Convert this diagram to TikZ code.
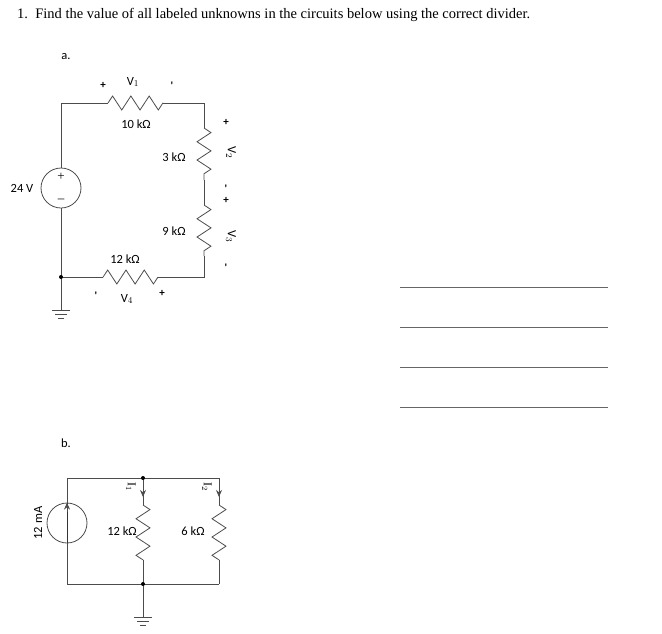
\documentclass[tikz,border=0pt]{standalone}
\usepackage{fontspec}
\setmainfont{Liberation Serif}
\newfontfamily\carl{Carlito}
\usetikzlibrary{decorations.pathmorphing,arrows.meta}
\begin{document}
\begin{tikzpicture}[x=1pt,y=-1pt,
  wire/.style={draw=black!70,line width=0.8pt},
  res/.style={wire,decorate,decoration={zigzag,amplitude=7pt,segment length=18.3pt}},
  lbl/.style={font=\carl\fontsize{12.5}{12.5}\selectfont,inner sep=0pt},
  pm/.style={font=\carl\bfseries\fontsize{11}{11}\selectfont,inner sep=0pt},
  ans/.style={draw=black!60,line width=0.6pt},
  arrowtip/.style={-{Stealth[length=7pt,width=6pt]}}]
\useasboundingbox (0,0) rectangle (662,633);
\node[anchor=west,inner sep=0pt,font=\fontsize{14.5}{15}\selectfont] (title) at (17,15) {1.\ \ Find the value of all labeled unknowns in the circuits below using the correct divider.};
\node[lbl] (la) at (66,57) {a.};
\node[lbl] (lb) at (66,443) {b.};
% circuit a
\coordinate (a1) at (61,103); \coordinate (a2) at (108,103); \coordinate (a3) at (163,103);
\coordinate (a4) at (204,103); \coordinate (a5) at (204,128); \coordinate (a6) at (204,180);
\coordinate (a7) at (204,205); \coordinate (a8) at (204,256); \coordinate (a9) at (204,277);
\coordinate (a10) at (158,277); \coordinate (a11) at (103,277); \coordinate (a12) at (61,277);
\coordinate (g1) at (61,310);
\node[circle,wire,minimum size=40pt,inner sep=0pt] (vs) at (61,188) {};
\draw[wire] (vs.north) -- (a1) -- (a2);
\draw[res] (a2) -- (a3);
\draw[wire] (a3) -- (a4) -- (a5);
\draw[res] (a5) -- (a6);
\draw[wire] (a6) -- (a7);
\draw[res] (a7) -- (a8);
\draw[wire] (a8) -- (a9) -- (a10);
\draw[res] (a10) -- (a11);
\draw[wire] (a11) -- (a12) -- (vs.south);
\draw[wire] (a12) -- (g1);
\fill (a12) circle (2pt);
\draw[wire] (52,310) -- (70,310) (55,314) -- (67,314) (58,318) -- (64,318);
\node[inner sep=0pt,font=\fontsize{13}{13}\selectfont] (vp) at (61,177) {+};
\node[inner sep=0pt,font=\fontsize{13}{13}\selectfont] (vm) at (61,201) {--};
\node[lbl] (v24) at (22,188) {24 V};
\node[pm] (p1) at (103,85) {+}; \node[lbl] (V1) at (133,82) {V$_1$}; \node[pm] (m1) at (172,86) {'};
\node[lbl] (r1) at (136,124) {10 kΩ};
\node[pm] (p2) at (226,122) {+}; \node[lbl,rotate=-90] (V2) at (231,153) {V$_2$}; \node[pm] (m2) at (226,189) {'};
\node[pm] (p3) at (226,200) {+}; \node[lbl,rotate=-90] (V3) at (231,237) {V$_3$}; \node[pm] (m3) at (226,268) {'};
\node[lbl] (r2) at (174,157) {3 kΩ};
\node[lbl] (r3) at (174,231) {9 kΩ};
\node[lbl] (r4) at (125,259) {12 kΩ};
\node[pm] (m4) at (96,296) {'}; \node[lbl] (V4) at (127,299) {V$_4$}; \node[pm] (p4) at (162,293) {+};
% answer lines
\foreach \y in {287,327,367,407} \draw[ans] (400,\y) -- (608,\y);
% circuit b
\coordinate (b1) at (67,478); \coordinate (b2) at (143,478); \coordinate (b3) at (219,478);
\coordinate (b4) at (67,584); \coordinate (b5) at (143,584); \coordinate (b6) at (219,584);
\coordinate (c0) at (143,497); \coordinate (c1) at (143,505); \coordinate (c2) at (143,560);
\coordinate (d0) at (219,497); \coordinate (d1) at (219,505); \coordinate (d2) at (219,560);
\coordinate (s0) at (67,512);
\coordinate (g2) at (143,617);
\node[circle,wire,minimum size=40pt,inner sep=0pt] (is) at (67,523) {};
\draw[wire] (b4) -- (b1) -- (b3);
\draw[wire] (b4) -- (b6);
\draw[black!80,line width=1pt] (is.south) -- (is.north);
\draw[wire,arrowtip] (s0) -- (is.north);
\draw[wire] (b2) -- (c1);
\draw[wire,arrowtip] (b2) -- (c0);
\draw[res] (c1) -- (c2); \draw[wire] (c2) -- (b5);
\draw[wire] (b3) -- (d1);
\draw[wire,arrowtip] (b3) -- (d0);
\draw[res] (d1) -- (d2); \draw[wire] (d2) -- (b6);
\draw[wire] (b5) -- (g2);
\fill (b2) circle (2pt); \fill (b5) circle (2pt);
\draw[wire] (134,617) -- (152,617) (137,621) -- (149,621) (140,625) -- (146,625);
\node[rotate=-90,inner sep=0pt,font=\fontsize{12}{12}\selectfont] (I1) at (131,487) {I$_1$};
\node[rotate=-90,inner sep=0pt,font=\fontsize{12}{12}\selectfont] (I2) at (207,487) {I$_2$};
\node[lbl,rotate=90] (i12) at (38,523) {12 mA};
\node[lbl] (r5) at (122,531) {12 kΩ};
\node[lbl] (r6) at (193,531) {6 kΩ};
\end{tikzpicture}
\end{document}
